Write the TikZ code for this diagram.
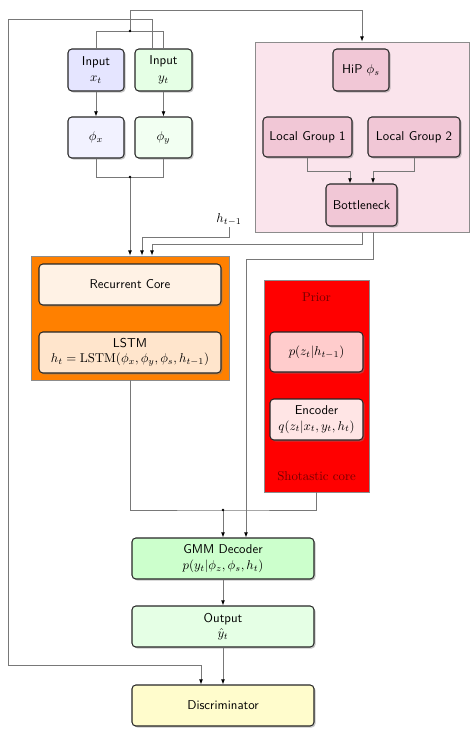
\documentclass[tikz,border=0pt]{standalone}
\usetikzlibrary{arrows.meta,shadows,calc,positioning}
\definecolor{pinkbg}{RGB}{250,228,236}
\definecolor{pinkbox}{RGB}{241,199,214}
\definecolor{lineg}{RGB}{120,120,120}
\begin{document}
\begin{tikzpicture}[x=0.78pt,y=-0.78pt,
  box/.style={draw=black!85,line width=0.8pt,rounded corners=3pt,align=center,
    font=\sffamily,drop shadow={shadow xshift=1.2pt,shadow yshift=-1.2pt,opacity=0.45}},
  sz/.style 2 args={minimum width=#1*0.78pt,minimum height=#2*0.78pt,inner sep=1pt},
  grp/.style={draw=black!45,line width=0.6pt},
  ln/.style={draw=lineg,line width=0.6pt},
  arr/.style={ln,-{Latex[length=4pt,width=3pt,color=black]}},
  jdot/.style={fill=black}]
\useasboundingbox (0,0) rectangle (474,731);
% group backgrounds
\node[grp,fill=pinkbg,sz={214}{190}] (hipbg) at (362,137) {};
\node[grp,fill=orange,sz={198}{124}] (orange) at (130,318) {};
\node[grp,fill=red,sz={105}{212}] (red) at (316.5,386) {};
% inputs
\node[box,fill=blue!10,sz={56}{42}] (inx) at (96,70) {Input\\[1pt]$x_t$};
\node[box,fill=green!10,sz={57}{42}] (iny) at (163.5,70) {Input\\[1pt]$y_t$};
\node[box,fill=blue!5,sz={56}{41}] (phix) at (96,137.5) {$\phi_x$};
\node[box,fill=green!5,sz={57}{41}] (phiy) at (163.5,137.5) {$\phi_y$};
% HiP group
\node[box,fill=pinkbox,sz={56}{42}] (hip) at (361,70) {HiP $\phi_s$};
\node[box,fill=pinkbox,sz={89}{40}] (lg1) at (307.5,137) {Local Group 1};
\node[box,fill=pinkbox,sz={92}{40}] (lg2) at (414,137) {Local Group 2};
\node[box,fill=pinkbox,sz={71}{42}] (bn) at (361.5,205) {Bottleneck};
% recurrent core
\node[box,fill=orange!10,sz={182}{41}] (rc) at (130,284.5) {Recurrent Core};
\node[box,fill=orange!20,sz={182}{41}] (lstm) at (130,352.5) {LSTM\\$h_t=\mathrm{LSTM}(\phi_x,\phi_y,\phi_s,h_{t-1})$};
% stochastic core
\node[text=red!45!black] (prior) at (316.5,297) {Prior};
\node[box,fill=red!20,sz={93}{40}] (pz) at (316.5,352) {$p(z_t|h_{t-1})$};
\node[box,fill=red!10,sz={93}{41}] (enc) at (316.5,419.5) {Encoder\\$q(z_t|x_t,y_t,h_t)$};
\node[text=red!45!black] (shot) at (316.5,476) {Shotastic core};
% decoder chain
\node[box,fill=green!20,sz={182}{41}] (gmm) at (223,558.5) {GMM Decoder\\$p(y_t|\phi_z,\phi_s,h_t)$};
\node[box,fill=green!10,sz={182}{41}] (out) at (223,626.5) {Output\\$\hat{y}_t$};
\node[box,fill=yellow!20,sz={182}{41}] (disc) at (223,705.5) {Discriminator};
% h_{t-1}
\node[anchor=south,inner sep=1pt] (hlab) at (229,227) {$h_{t-1}$};
% coordinates
\coordinate (jin) at (130,31);
\coordinate (top1) at (130,10);
\coordinate (ya) at ($(iny.north west)+(18,0)$);
\coordinate (yb) at (8,19);
\coordinate (yc) at (8,665);
\coordinate (jphi) at (130,177);
\coordinate (hb) at (229,237);
\coordinate (hc) at (362,244);
\coordinate (hd) at (373,259);
\coordinate (jz) at (223,510);
\coordinate (b1) at (350,171);
\coordinate (b2) at (373,171);
% connectors
\draw[ln] (inx.north) |- (jin);
\draw[ln] (iny.north) |- (jin);
\draw[arr] (jin) -- (top1) -| (hipbg.north);
\fill[jdot] (jin) circle (1.4);
\draw[arr] (ya) |- (yb) -- (yc) -| ($(disc.north)+(-22,0)$);
\draw[arr] (inx) -- (phix);
\draw[arr] (iny) -- (phiy);
\draw[ln] (phix.south) |- (jphi);
\draw[ln] (phiy.south) |- (jphi);
\draw[arr] (jphi) -- (jphi |- orange.north);
\fill[jdot] (jphi) circle (1.4);
\draw[arr] (hlab.south) |- (hb) -| ($(orange.north)+(12,0)$);
\draw[arr] (hipbg.south) -- (hc) -| ($(orange.north)+(22,0)$);
\draw[arr] ($(hipbg.south)+(11,0)$) -- (hd) -| ($(gmm.north)+(23,0)$);
\draw[arr] (lg1.south) |- (b1) -- (b1 |- bn.north);
\draw[arr] (lg2.south) |- (b2) -- (b2 |- bn.north);
\draw[ln] (orange.south) |- (jz) -| (red.south);
\draw[arr] (jz) -- (gmm.north);
\fill[jdot] (jz) circle (1.4);
\draw[arr] (gmm) -- (out);
\draw[arr] (out) -- (disc);
\end{tikzpicture}
\end{document}
